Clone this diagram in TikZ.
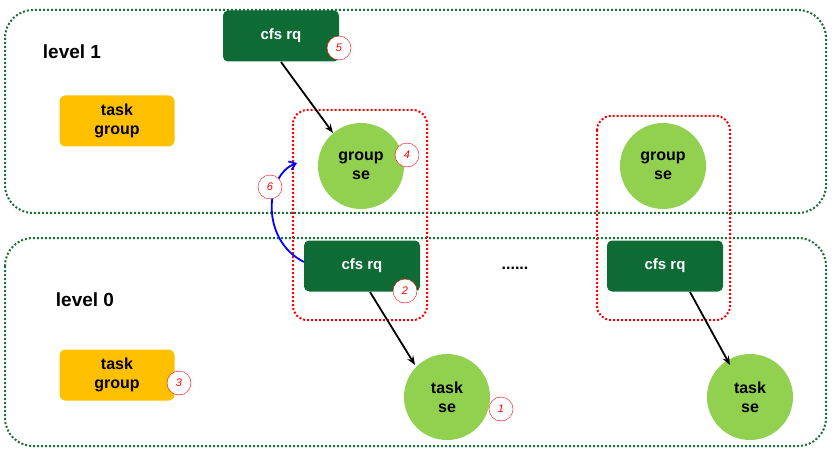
\documentclass[tikz,border=0pt]{standalone}
\usepackage{fontspec}
\setmainfont{Liberation Sans}
\usetikzlibrary{arrows.meta}
\definecolor{lg}{HTML}{92D050}
\definecolor{dg}{HTML}{0E6B35}
\definecolor{og}{HTML}{FFC000}
\definecolor{lvl}{HTML}{1E6B3C}
\begin{document}
\begin{tikzpicture}[x=1pt,y=-1pt,
 lvlbox/.style={draw=lvl,line width=2pt,dotted,rounded corners=28pt},
 grp/.style={draw=red,line width=2pt,dotted,rounded corners=14pt},
 rq/.style={fill=dg,rounded corners=5pt,minimum width=116pt,minimum height=51pt,text=white,font=\bfseries\fontsize{15}{17}\selectfont},
 se/.style={circle,fill=lg,minimum size=86pt,align=center,font=\bfseries\fontsize{16}{19}\selectfont},
 tg/.style={fill=og,rounded corners=6pt,minimum width=115pt,minimum height=51pt,align=center,font=\bfseries\fontsize{16}{19}\selectfont},
 num/.style={circle,draw=red,fill=white,minimum size=24pt,inner sep=0pt,text=red,font=\itshape\fontsize{11}{11}\selectfont},
 arr/.style={-{Stealth[length=9pt,width=7pt]},line width=1.8pt}]
\useasboundingbox (0,0) rectangle (834,454);
\draw[lvlbox] (5,10) rectangle (826,213);
\draw[lvlbox] (5,238) rectangle (826,446);
\node[font=\bfseries\fontsize{19}{22}\selectfont] (l1) at (72,52) {level 1};
\node[font=\bfseries\fontsize{19}{22}\selectfont] (l0) at (85,300) {level 0};
\node[tg] (tg1) at (117,121) {task\\group};
\node[tg] (tg0) at (117,375) {task\\group};
\node[num] (n3) at (179,383) {3};
\draw[grp] (293,110) rectangle (427,320);
\draw[grp] (597,116) rectangle (730,320);
\node[rq] (rqt) at (281,36) {cfs rq};
\node[num] (n5) at (339,48) {5};
\node[se] (gse) at (361,166) {group\\se};
\node[num] (n4) at (407,155) {4};
\node[rq] (rq0) at (362,266) {cfs rq};
\node[num] (n2) at (405,291) {2};
\node[se] (tse) at (447,397) {task\\se};
\node[num] (n1) at (501,409) {1};
\node[font=\bfseries\fontsize{16}{16}\selectfont] (dots) at (515,268) {......};
\node[se] (gse2) at (663,166) {group\\se};
\node[rq] (rq2) at (665,266) {cfs rq};
\node[se] (tse2) at (750,397) {task\\se};
\coordinate (ba) at (304,262);
\coordinate (bb) at (297,163);
\draw[blue,line width=1.8pt,-{Straight Barb[length=6pt,width=9pt]}] (ba) .. controls (260,240) and (265,175) .. (bb);
\node[num] (n6) at (270,187) {6};
\draw[arr] (281,62) -- (333,133);
\draw[arr] (370,292) -- (415,365);
\draw[arr] (690,292) -- (730,365);
\end{tikzpicture}
\end{document}
